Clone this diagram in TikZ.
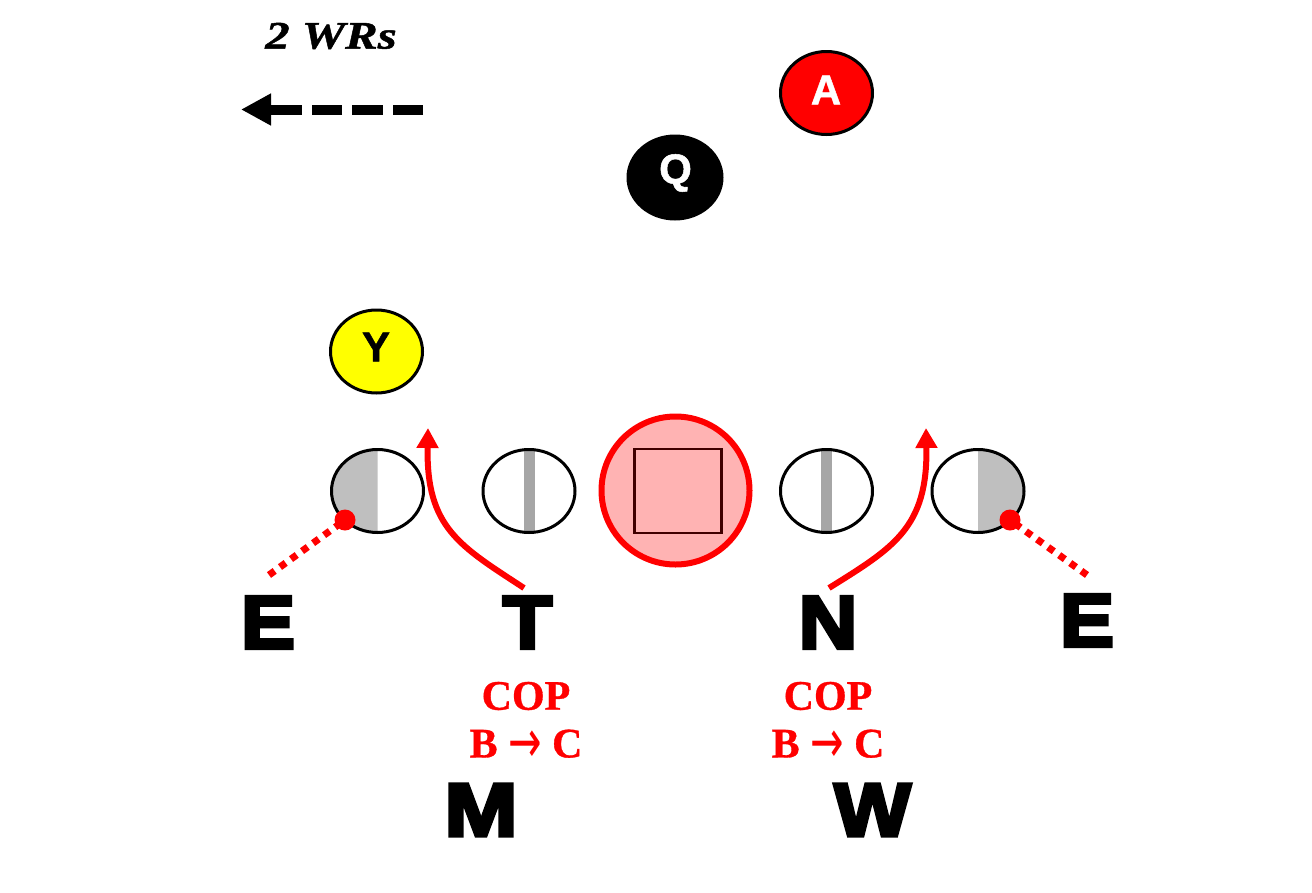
\documentclass[tikz,border=0pt]{standalone}
\usepackage{fontspec}
\usepackage{graphicx}
\setmainfont{Liberation Serif}
\newfontfamily\heavyfont[FakeBold=5,FakeStretch=1.08]{Liberation Sans Bold}
\newfontfamily\labfont[FakeBold=1.2]{Liberation Sans Bold}
\newfontfamily\wrfont[FakeStretch=1.25,FakeBold=1.2]{Liberation Serif Bold Italic}
\newfontfamily\copfont[FakeBold=0.8]{Liberation Serif Bold}
\newfontfamily\arrowfont{DejaVu Sans}
\usetikzlibrary{arrows.meta,shapes.geometric}
\definecolor{halfgray}{HTML}{BFBFBF}
\definecolor{stripgray}{HTML}{A6A6A6}
\definecolor{padfill}{HTML}{FFB3B3}
\definecolor{boxline}{HTML}{400000}
\definecolor{pureyellow}{HTML}{FFFF00}
\definecolor{purered}{HTML}{FF0000}
\newcommand{\chevarrow}{\raisebox{-5pt}{\scalebox{1}[1.5]{\arrowfont\fontsize{40}{40}\selectfont →}}}
\tikzset{
  player/.style={ellipse,draw=black,line width=3pt,minimum width=92pt,minimum height=83pt,inner sep=0pt,outer sep=0pt},
  playertext/.style={font=\labfont\fontsize{42}{42}\selectfont,inner sep=0pt},
  bigletter/.style={font=\heavyfont\fontsize{75}{75}\selectfont,text=black,inner sep=0pt,anchor=center},
  coptext/.style={font=\copfont\fontsize{42}{42}\selectfont,text=purered,inner sep=0pt,anchor=center},
  rush/.style={draw=purered,line width=6pt,-{Triangle[length=20pt,width=21pt]}},
  slant/.style={draw=purered,line width=7pt,dash pattern=on 7pt off 6.6pt},
  reddot/.style={circle,fill=purered,minimum size=21pt,inner sep=0pt}
}
\begin{document}
\begin{tikzpicture}[x=1pt,y=-1pt]
\useasboundingbox (0,0) rectangle (1312,892);

% top group
\node[font=\wrfont\fontsize{39}{39}\selectfont,inner sep=0pt] (wr) at (331,36) {2 WRs};
\coordinate (dashstart) at (423,109.5);
\coordinate (dashend) at (241,109.5);
\draw[line width=10pt,dash pattern=on 30.5pt off 10pt,-{Triangle[length=30pt,width=30pt]}] (dashstart) -- (dashend);

\node[player,fill=purered] (A) at (826.5,93) {};
\node[text=white,playertext] (Atext) at (826,90) {A};
\node[player,fill=black,minimum width=94pt,minimum height=83pt] (Q) at (675,177.5) {};
\node[text=white,playertext] (Qtext) at (675.5,173) {Q};
\node[player,fill=pureyellow] (Y) at (376.5,351.5) {};
\node[text=black,playertext] (Ytext) at (376,347) {Y};

% line
\begin{scope}
  \clip (310,431) rectangle (377.5,551);
  \fill[halfgray] (377.5,491) ellipse [x radius=46,y radius=41.5];
\end{scope}
\node[player] (lg) at (377.5,491) {};

\begin{scope}
  \clip (529,491) ellipse [x radius=46,y radius=41.5];
  \fill[stripgray] (523.5,440) rectangle (534.5,540);
\end{scope}
\node[player] (lt) at (529,491) {};

\begin{scope}
  \clip (826.5,491) ellipse [x radius=46,y radius=41.5];
  \fill[stripgray] (821,440) rectangle (832,540);
\end{scope}
\node[player] (rt) at (826.5,491) {};

\begin{scope}
  \clip (978,431) rectangle (1040,551);
  \fill[halfgray] (978,491) ellipse [x radius=46,y radius=41.5];
\end{scope}
\node[player] (rg) at (978,491) {};

\node[circle,draw=purered,fill=padfill,line width=6pt,minimum size=148pt,inner sep=0pt] (C) at (675.5,490.5) {};
\node[rectangle,draw=boxline,line width=2.5pt,minimum width=87pt,minimum height=84pt,inner sep=0pt] (box) at (678,491) {};

% defenders
\begin{scope}[miter limit=2]
\node[bigletter] (E1) at (268,622.5) {E};
\node[bigletter] (T) at (527.5,622.5) {T};
\node[bigletter] (N) at (828,622.5) {N};
\node[bigletter] (E2) at (1087,620.5) {E};
\node[bigletter] (M) at (481,810) {\scalebox{1.08}[1]{M}};
\node[bigletter] (W) at (872.5,810) {W};
\end{scope}

\node[coptext] (c1) at (526,696) {COP};
\node[coptext] (b1) at (526,746) {B \chevarrow{} C};
\node[coptext] (c2) at (828,696) {COP};
\node[coptext] (b2) at (828,746) {B \chevarrow{} C};

% connectors
\coordinate (ltip) at (428,428);
\coordinate (rtip) at (926,428);
\coordinate (tstart) at (524,588);
\coordinate (nstart) at (829,588);
\draw[rush] (tstart) .. controls (460,546) and (426,528) .. (ltip);
\draw[rush] (nstart) .. controls (893,548) and (928,528) .. (rtip);

\node[reddot] (d1) at (345,520) {};
\node[reddot] (d2) at (1010,520) {};
\coordinate (s1) at (269,575);
\coordinate (s2) at (1087,575);
\draw[slant] (s1) -- (d1.center);
\draw[slant] (s2) -- (d2.center);
\end{tikzpicture}
\end{document}
